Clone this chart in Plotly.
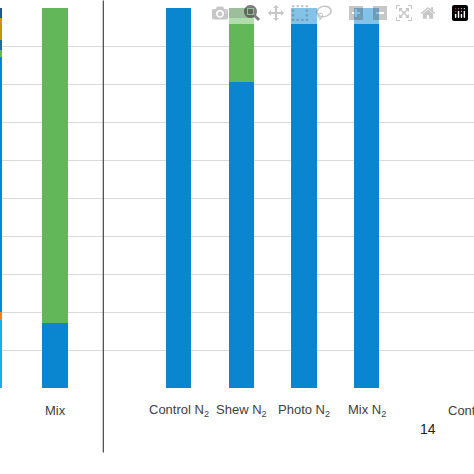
import plotly.graph_objects as go

# categories and their slot positions on the category axis
categories = ["Photo", "Mix", "Control N<sub>2</sub>", "Shew N<sub>2</sub>",
              "Photo N<sub>2</sub>", "Mix N<sub>2</sub>", "Control"]
slots = [-1.05, 0, 1.97, 2.97, 3.97, 4.97, 6.6]

# stacked percentages per component (bottom to top)
light_blue = [18, 0, 0, 0, 0, 0, 0]
orange = [2, 0, 0, 0, 0, 0, 0]
blue = [67, 17, 100, 80.5, 100, 100, 0]
green = [2, 83, 0, 17, 0, 0, 0]
teal = [2.5, 0, 0, 0, 0, 0, 0]
gold = [6, 0, 0, 0, 0, 0, 0]
dark_green = [0, 0, 0, 2.5, 0, 0, 0]
dark_blue = [2.5, 0, 0, 0, 0, 0, 0]

series = [
    (light_blue, "#1aaee6"), (orange, "#f07f2a"), (blue, "#0a85d0"),
    (green, "#62b858"), (teal, "#1a6e9e"), (gold, "#c8950e"),
    (dark_green, "#3b7d34"), (dark_blue, "#1b5a8e"),
]

fig = go.Figure()
for vals, col in series:
    fig.add_bar(x=slots, y=vals, marker_color=col, marker_line_width=0,
                width=0.4, showlegend=False)

for s, c in zip(slots, categories):
    fig.add_annotation(x=s, y=0, xref="x", yref="y", text=c, showarrow=False,
                       yshift=-22, xshift=5 if c == "Photo" else 0,
                       font=dict(size=13, color="#404040"))

fig.add_annotation(x=5.95, y=-0.135, xref="x", yref="paper", text="14",
                   showarrow=False, font=dict(size=14, color="#222"))

fig.add_shape(type="line", xref="x", yref="paper", x0=0.77, x1=0.77,
              y0=1.02, y1=-0.17, line=dict(color="#444", width=1.2))

fig.update_layout(
    barmode="stack", width=474, height=474,
    margin=dict(l=0, r=0, t=8, b=86),
    plot_bgcolor="white", paper_bgcolor="white",
    font=dict(family="Liberation Sans"),
    xaxis=dict(range=[-0.877, 6.68], showticklabels=False, showgrid=False,
               zeroline=False),
    yaxis=dict(range=[0, 100], dtick=10, showticklabels=False,
               gridcolor="#d9d9d9", zeroline=False),
)

fig.write_html("out.html",
               post_script="document.body.style.margin='0';")
